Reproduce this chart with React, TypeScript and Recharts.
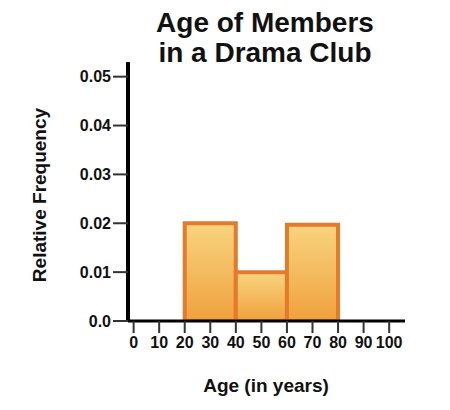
import React from 'react';
import { BarChart, Bar, XAxis, YAxis } from 'recharts';

const binStarts = [20, 40, 60];
const binEnds = [40, 60, 80];
const relFrequency = [0.02, 0.01, 0.0197];
const xTicks = [0, 10, 20, 30, 40, 50, 60, 70, 80, 90, 100];
const yTicks = [0, 0.01, 0.02, 0.03, 0.04, 0.05];

const data = binStarts.map((start, i) => ({
  mid: (start + binEnds[i]) / 2,
  freq: relFrequency[i],
}));

const font = '"Liberation Sans", Arial, Helvetica, sans-serif';
const tickStyle = { fill: '#111', fontSize: 16, fontWeight: 'bold', fontFamily: font };

// plot runs from x=128 to x=405, domain -2.2..106.2
const xDomain: [number, number] = [-2.2, 106.2];
const plotWidth = 405 - 128;
// just under the band size, otherwise recharts shrinks the bars to 90%
const binWidthPx = (20 / (xDomain[1] - xDomain[0])) * plotWidth - 0.05;

export default function App() {
  return (
    <div style={{ position: 'absolute', left: 0, top: 0, width: 450, height: 410, background: '#fff' }}>
      <div
        style={{
          position: 'absolute',
          left: 65,
          top: 8,
          width: 400,
          textAlign: 'center',
          fontFamily: font,
          fontWeight: 'bold',
          fontSize: 28,
          lineHeight: '30px',
          color: '#111',
        }}
      >
        Age of Members
        <br />
        in a Drama Club
      </div>
      <div
        style={{
          position: 'absolute',
          left: 39.5,
          top: 195,
          transform: 'translate(-50%, -50%) rotate(-90deg)',
          whiteSpace: 'nowrap',
          fontFamily: font,
          fontWeight: 'bold',
          fontSize: 19,
          color: '#111',
        }}
      >
        Relative Frequency
      </div>
      <div
        style={{
          position: 'absolute',
          left: 66,
          top: 376,
          width: 400,
          textAlign: 'center',
          fontFamily: font,
          fontWeight: 'bold',
          fontSize: 19,
          lineHeight: '20px',
          color: '#111',
        }}
      >
        Age (in years)
      </div>
      <BarChart
        width={450}
        height={410}
        data={data}
        margin={{ top: 62, right: 45, bottom: 49, left: 48 }}
        style={{ position: 'absolute', left: 0, top: 0 }}
      >
        <defs>
          <linearGradient id="barFill" x1="0" y1="0" x2="0" y2="1">
            <stop offset="0%" stopColor="#f8d47f" />
            <stop offset="100%" stopColor="#f0a13d" />
          </linearGradient>
        </defs>
        <XAxis
          type="number"
          dataKey="mid"
          domain={xDomain}
          ticks={xTicks}
          allowDataOverflow
          height={40}
          tick={tickStyle}
          tickSize={12}
          tickMargin={4}
          tickLine={{ stroke: '#333', strokeWidth: 2 }}
          axisLine={{ stroke: '#000', strokeWidth: 3 }}
        />
        <YAxis
          type="number"
          domain={[0, 0.053]}
          ticks={yTicks}
          allowDataOverflow
          width={80}
          tick={tickStyle}
          tickSize={15}
          tickMargin={2}
          tickFormatter={(v: number) => (v === 0 ? '0.0' : v.toFixed(2))}
          tickLine={{ stroke: '#333', strokeWidth: 2 }}
          axisLine={{ stroke: '#000', strokeWidth: 4 }}
        />
        <Bar
          dataKey="freq"
          barSize={binWidthPx}
          fill="url(#barFill)"
          stroke="#e47a2c"
          strokeWidth={4}
          isAnimationActive={false}
        />
      </BarChart>
    </div>
  );
}
